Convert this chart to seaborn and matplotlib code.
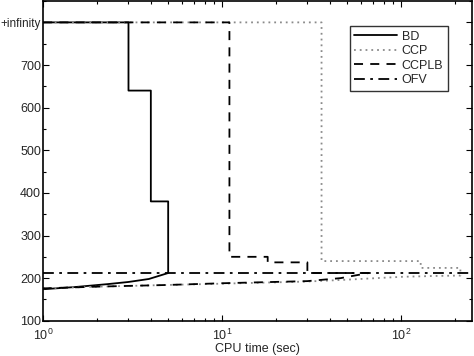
"""
Bound convergence vs CPU time (BD / CCP / CCPLB / OFV)
"""
import numpy as np
import matplotlib
matplotlib.use('Agg')
import matplotlib.pyplot as plt
import seaborn as sns
from matplotlib.ticker import MultipleLocator

sns.set_theme(style="ticks")
matplotlib.rcParams['font.family'] = ['Liberation Sans', 'DejaVu Sans']
matplotlib.rcParams['mathtext.fontset'] = 'custom'
matplotlib.rcParams['mathtext.rm'] = 'Liberation Sans'

# upper bound steps then lower bound curve, traced as one path
BD_X = [1, 3, 3, 4, 4, 5, 5, 3.9, 3.0, 2.3, 1.5, 1]
BD_Y = [800, 800, 640, 640, 380, 380, 212, 198, 191, 186, 179, 174]

CCP_X = [1, 36, 36, 129, 129, 215, 215, 150, 100, 48, 30, 10, 5, 2, 1]
CCP_Y = [800, 800, 240, 240, 224, 224, 206, 205, 203, 196, 192, 187, 184, 180, 176]

CCPLB_X = [1, 11, 11, 18, 18, 30, 30, 66, 46, 30, 10, 5, 2, 1]
CCPLB_Y = [800, 800, 250, 250, 237, 237, 212, 212, 200, 193, 188, 184, 180, 176]

OFV_X = [1, 250]
OFV_Y = [212, 212]

Y_TICKS = [100, 200, 300, 400, 500, 600, 700, 800]
Y_LABELS = ['100', '200', '300', '400', '500', '600', '700', '+infinity']


def main():
    fig = plt.figure(figsize=(4.74, 3.56), dpi=100)
    ax = fig.add_axes([0.091, 0.099, 0.905, 0.898])

    sns.lineplot(x=BD_X, y=BD_Y, sort=False, estimator=None, ax=ax,
                 color='black', lw=1.3, linestyle='-', label='BD')
    sns.lineplot(x=CCP_X, y=CCP_Y, sort=False, estimator=None, ax=ax,
                 color='#8a8a8a', lw=1.3, linestyle=(0, (1, 2.2)), label='CCP')
    sns.lineplot(x=CCPLB_X, y=CCPLB_Y, sort=False, estimator=None, ax=ax,
                 color='black', lw=1.3, linestyle=(0, (5, 4)), label='CCPLB')
    sns.lineplot(x=OFV_X, y=OFV_Y, sort=False, estimator=None, ax=ax,
                 color='black', lw=1.3, linestyle=(0, (6, 3, 1.5, 3)), label='OFV')

    ax.set_xscale('log')
    ax.set_xlim(1, 250)
    ax.set_ylim(100, 850)
    ax.set_yticks(Y_TICKS)
    ax.set_yticklabels(Y_LABELS)
    ax.yaxis.set_minor_locator(MultipleLocator(50))

    ax.set_xlabel('CPU time (sec)', fontsize=9, labelpad=0)
    ax.set_ylabel('')
    ax.tick_params(which='both', direction='in', top=True, right=True,
                   labelsize=9, color='black', width=0.8)
    ax.tick_params(which='major', length=4)
    ax.tick_params(which='minor', length=2.5)
    ax.tick_params(axis='x', pad=5)
    ax.tick_params(axis='y', pad=1.5)
    ax.get_yticklabels()[-1].set_fontsize(8.5)
    for sp in ax.spines.values():
        sp.set_color('black')
        sp.set_linewidth(1.2)

    leg = ax.legend(loc='upper right', bbox_to_anchor=(0.958, 0.94),
                    fontsize=9, frameon=True, fancybox=False,
                    handlelength=3.4, borderpad=0.35, labelspacing=0.2,
                    handletextpad=0.4)
    leg.get_frame().set_edgecolor('black')
    leg.get_frame().set_linewidth(1.0)

    fig.savefig('out.png', dpi=100)
    plt.close(fig)


if __name__ == "__main__":
    main()
